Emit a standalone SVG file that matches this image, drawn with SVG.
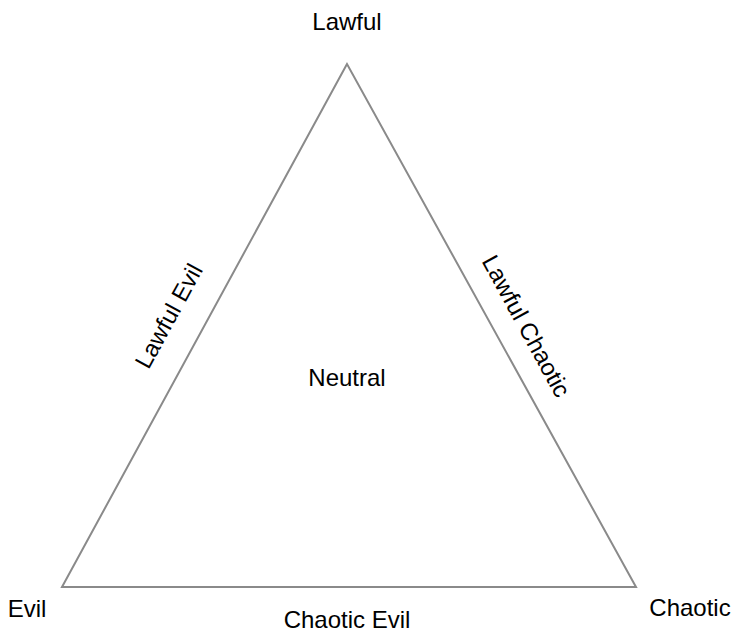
<svg xmlns="http://www.w3.org/2000/svg" width="748" height="640" viewBox="0 0 748 640">
<style>text{font-family:"Liberation Sans",Arial,sans-serif;font-size:24px;fill:#000;text-anchor:middle}</style>
<rect width="748" height="640" fill="#fff"/>
<g id="connectors"><polygon points="347,64 62,587 636,587" fill="none" stroke="#8a8a8a" stroke-width="2"/></g>
<g id="lawful"><text x="347" y="30">Lawful</text></g>
<g id="evil"><text x="27" y="617">Evil</text></g>
<g id="chaotic"><text x="690" y="616">Chaotic</text></g>
<g id="neutral"><text x="347" y="386">Neutral</text></g>
<g id="chaotic-evil"><text x="347" y="628">Chaotic Evil</text></g>
<g id="lawful-evil"><text x="0" y="0" transform="translate(176,320) rotate(-61.4)">Lawful Evil</text></g>
<g id="lawful-chaotic"><text x="0" y="0" transform="translate(519,330) rotate(61.4)">Lawful Chaotic</text></g>
</svg>
